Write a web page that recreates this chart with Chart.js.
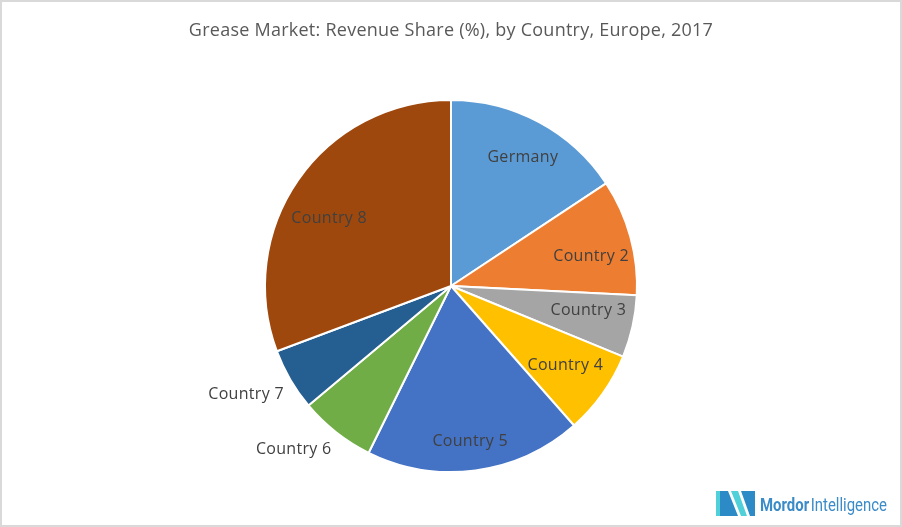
<!DOCTYPE html>
<html>
<head>
<meta charset="utf-8">
<script src="https://cdn.jsdelivr.net/npm/chart.js@4/dist/chart.umd.min.js"></script>
<style>
  html, body { margin: 0; padding: 0; background: #fff; }
  #wrap { width: 898px; height: 523px; border: 2px solid #d9d9d9; position: relative; }
  canvas { display: block; }
</style>
</head>
<body>
<div id="wrap"><canvas id="pieChart" width="898" height="523"></canvas></div>
<script>
// dados
const countries = ["Germany", "Country 2", "Country 3", "Country 4", "Country 5", "Country 6", "Country 7", "Country 8"];
const shares = [15.7, 10.1, 5.4, 7.3, 18.8, 6.6, 5.4, 30.7];
const sliceColors = ["#5b9bd5", "#ed7d31", "#a5a5a5", "#ffc000", "#4472c4", "#70ad47", "#255e91", "#9e480e"];
const chartTitle = "Grease Market: Revenue Share (%), by Country, Europe, 2017";

// posição de cada rótulo: fração do raio (> 1 fica fora da fatia) e desvio em graus
const labelRadius = [0.79, 0.77, 0.75, 0.75, 0.84, 1.04, 1.04, 0.75];
const labelShift = [1, 3.3, -2.5, -0.5, 0.5, 0, 0, -5.6];

const labelFont = "16px 'Open Sans'";

// rótulos das fatias
const sliceLabels = {
  id: "sliceLabels",
  afterDatasetsDraw(chart) {
    const ctx = chart.ctx;
    const arcs = chart.getDatasetMeta(0).data;
    ctx.save();
    ctx.font = labelFont;
    ctx.letterSpacing = "0.3px";
    ctx.fillStyle = "#404040";
    ctx.textBaseline = "middle";
    arcs.forEach((arc, i) => {
      const p = arc.getProps(["x", "y", "startAngle", "endAngle", "outerRadius"], true);
      const mid = (p.startAngle + p.endAngle) / 2 + labelShift[i] * Math.PI / 180;
      const r = p.outerRadius * labelRadius[i];
      let x = p.x + Math.cos(mid) * r;
      let y = p.y + Math.sin(mid) * r;
      if (labelRadius[i] > 1) {
        // rótulo fora da fatia: o canto superior direito encosta no ponto
        ctx.textAlign = "right";
        y += 11;
      } else {
        ctx.textAlign = "center";
      }
      ctx.fillText(chart.data.labels[i], x, y);
    });
    ctx.restore();
  }
};

// título e logotipo
const decorations = {
  id: "decorations",
  afterDraw(chart) {
    const ctx = chart.ctx;
    ctx.save();
    ctx.font = "18px 'Open Sans'";
    ctx.letterSpacing = "0.25px";
    ctx.fillStyle = "#595959";
    ctx.textAlign = "center";
    ctx.textBaseline = "middle";
    ctx.fillText(chartTitle, 449, 29);
    ctx.letterSpacing = "0px";

    // ícone
    const x0 = 714, y0 = 489, h = 25;
    ctx.fillStyle = "#50d0d8";
    ctx.beginPath();
    ctx.moveTo(x0, y0); ctx.lineTo(x0 + 4, y0); ctx.lineTo(x0 + 4, y0 + h); ctx.lineTo(x0, y0 + h);
    ctx.fill();
    ctx.fillStyle = "#2c8ac6";
    ctx.beginPath();
    ctx.moveTo(x0 + 4, y0); ctx.lineTo(x0 + 12, y0); ctx.lineTo(x0 + 22, y0 + h); ctx.lineTo(x0 + 4, y0 + h);
    ctx.fill();
    ctx.fillStyle = "#50d0d8";
    ctx.beginPath();
    ctx.moveTo(x0 + 15, y0); ctx.lineTo(x0 + 22, y0); ctx.lineTo(x0 + 31, y0 + h); ctx.lineTo(x0 + 25, y0 + h);
    ctx.fill();
    ctx.fillStyle = "#2c8ac6";
    ctx.beginPath();
    ctx.moveTo(x0 + 25, y0); ctx.lineTo(x0 + 39, y0); ctx.lineTo(x0 + 39, y0 + h); ctx.lineTo(x0 + 34, y0 + h);
    ctx.fill();

    // texto do logotipo, estreitado para caber em ~127px
    ctx.textAlign = "left";
    ctx.textBaseline = "alphabetic";
    ctx.fillStyle = "#3a8bc8";
    ctx.font = "bold 18px 'Roboto'";
    const w1 = ctx.measureText("Mordor").width;
    ctx.font = "18px 'Roboto'";
    const w2 = ctx.measureText("Intelligence").width;
    const sx = 127 / (w1 + w2 + 2);
    ctx.translate(758, 509);
    ctx.scale(sx, 1);
    ctx.font = "bold 18px 'Roboto'";
    ctx.fillText("Mordor", 0, 0);
    ctx.font = "18px 'Roboto'";
    ctx.fillText("Intelligence", w1 + 2, 0);
    ctx.restore();
  }
};

new Chart(document.getElementById("pieChart"), {
  type: "pie",
  data: {
    labels: countries,
    datasets: [{
      data: shares,
      backgroundColor: sliceColors,
      borderColor: "#ffffff",
      borderWidth: 2
    }]
  },
  options: {
    responsive: false,
    animation: false,
    layout: {
      padding: { top: 97, bottom: 52, left: 0, right: 0 }
    },
    plugins: {
      legend: { display: false },
      title: { display: false },
      tooltip: { enabled: false }
    }
  },
  plugins: [sliceLabels, decorations]
});
</script>
</body>
</html>
